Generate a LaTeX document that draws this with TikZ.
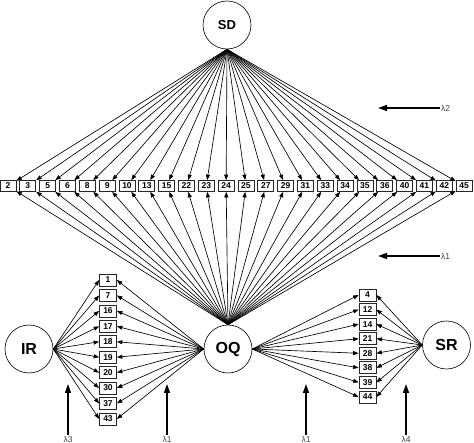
\documentclass[tikz,border=0pt]{standalone}
\usepackage{fontspec}
\setmainfont{Liberation Sans}
\usetikzlibrary{arrows.meta}

\begin{document}
\begin{tikzpicture}[x=1pt,y=-1pt,>={Triangle[length=5.5pt,width=4pt]},
    item/.style={draw=black!85,line width=.7pt,fill=white,minimum width=16pt,
      minimum height=11pt,inner sep=0pt,font=\fontsize{8.5}{8.5}\selectfont\bfseries},
    latent/.style={draw,circle,line width=.6pt,minimum size=48pt,inner sep=0pt,
      font=\fontsize{16}{16}\selectfont\bfseries},
    path/.style={->,line width=.65pt},
    lam/.style={font=\fontsize{8.5}{8.5}\selectfont,text=black!75,inner sep=1pt},
    lamarrow/.style={-{Triangle[length=9pt,width=6pt]},line width=1.5pt}]
  \useasboundingbox (0,0) rectangle (474,443);
  % factors
  \node[latent,font=\fontsize{13}{13}\selectfont\bfseries] (SD) at (227,25) {SD};
  \node[latent] (OQ) at (228,349) {OQ};
  \node[latent] (IR) at (29,349) {IR};
  \node[latent] (SR) at (446.5,345) {SR};
  % items, top row
  \foreach \n [count=\i from 0] in {2,3,5,6,8,9,10,13,15,22,23,24,25,27,29,31,33,34,35,36,40,41,42,45}{
    \node[item] (q\n) at ({8+19.83*\i},186) {\n};
    \draw[path] (SD.south) -- (q\n);
    \draw[path] (OQ.north) -- (q\n);
  }
  % items, left column
  \foreach \n [count=\i from 0] in {1,7,16,17,18,19,20,30,37,43}{
    \node[item,minimum width=17pt,minimum height=12pt] (q\n) at (108,{280+15.44*\i}) {\n};
    \draw[path] (IR.east) -- (q\n.west);
    \draw[path] (OQ.west) -- (q\n.east);
  }
  % items, right column
  \foreach \n [count=\i from 0] in {4,12,14,21,28,38,39,44}{
    \node[item,minimum width=17pt,minimum height=12pt] (q\n) at (367.5,{295+14.57*\i}) {\n};
    \draw[path] (OQ.east) -- (q\n.west);
    \draw[path] (SR.west) -- (q\n.east);
  }
  % lambdas
  \node[lam,anchor=west] (lamB) at (440,108) {λ2};
  \coordinate (lamBend) at (378,108);
  \draw[lamarrow] (lamB.west) -- (lamBend);
  \node[lam,anchor=west] (lamA) at (440,256) {λ1};
  \coordinate (lamAend) at (378,256);
  \draw[lamarrow] (lamA.west) -- (lamAend);
  \foreach \name/\x/\t in {lamC/68/λ3,lamD/167/λ1,lamE/306/λ1,lamF/406/λ4}{
    \node[lam] (\name) at (\x,439) {\t};
    \coordinate (\name end) at (\x,384);
    \draw[lamarrow] (\name.north) -- (\name end);
  }
\end{tikzpicture}
\end{document}
